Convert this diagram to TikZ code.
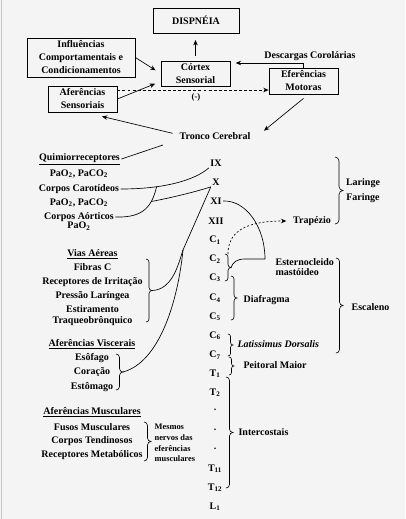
\documentclass[tikz,border=0pt]{standalone}
\usepackage{fontspec}
\setmainfont{Liberation Serif}
\usetikzlibrary{arrows.meta}
\definecolor{PaperGray}{RGB}{244,244,244}
% right-facing curly brace: x, top y, bottom y, depth
\newcommand{\bracedraw}[4]{%
  \draw[brc] (#1,#2) to[out=0,in=90] ({#1+#4/2},{#2+#4/2})
    -- ({#1+#4/2},{(#2+#3)/2-#4/2}) to[out=270,in=180] ({#1+#4},{(#2+#3)/2})
    to[out=180,in=90] ({#1+#4/2},{(#2+#3)/2+#4/2})
    -- ({#1+#4/2},{#3-#4/2}) to[out=270,in=0] (#1,#3);}

\begin{document}
\begin{tikzpicture}[x=0.75pt, y=-0.75pt,
    lbl/.style={font=\fontsize{7.5}{9.75}\selectfont\bfseries, inner sep=1pt, align=center},
    box/.style={lbl, draw, line width=0.6pt},
    arr/.style={-{Stealth[length=4pt,width=3.4pt]}, line width=0.5pt},
    brc/.style={line width=0.45pt},
    crv/.style={line width=0.5pt}]
	\fill[PaperGray] (0,0) rectangle (405,519);
	\useasboundingbox (0,0) rectangle (405,519);
	\draw[gray!45, line width=0.8pt] (1.5,0) -- (1.5,519);
	% upper block
	\node[box, minimum width=64.5pt, minimum height=18.75pt] (disp) at (196,20.5) {DISPNÉIA};
	\node[box, minimum width=81pt, minimum height=29.25pt] (infl) at (81,57.5) {Influências\\Comportamentais e\\Condicionamentos};
	\node[box, minimum width=51.75pt, minimum height=18.75pt] (cortex) at (195.5,73.5) {Córtex\\Sensorial};
	\node[box, minimum width=51.75pt, minimum height=19.5pt] (eferm) at (303.5,81) {Eferências\\Motoras};
	\node[box, minimum width=51.75pt, minimum height=19.5pt] (aferS) at (82.5,99) {Aferências\\Sensoriais};
	\node[lbl] (desc) at (310,56) {Descargas Corolárias};
	\node[lbl] (tronco) at (215,136) {Tronco Cerebral};
	\node[lbl, font=\fontsize{6.5}{7}\selectfont\bfseries] (menos) at (196,97) {(-)};
	\draw[arr, shorten <=3.75pt, shorten >=5pt] (cortex.north) -- (cortex.north |- disp.south);
	\draw[arr, shorten >=4.5pt] (infl.east) -- (cortex.west);
	\draw[arr, shorten >=4.5pt] (aferS.east) -- ([yshift=-6pt]cortex.west);
	\draw[arr, dash pattern=on 2.2pt off 1.6pt] ([yshift=6.75pt]aferS.east) -- ([yshift=6.75pt]aferS.east -| eferm.west);
	\draw[arr, shorten >=4pt] (eferm.north) |- ([yshift=7.9pt]cortex.east);
	\draw[arr] ([yshift=-3pt]eferm.south) -- ([xshift=9pt,yshift=4pt]tronco.east);
	\draw[arr] ([xshift=-4pt,yshift=2pt]tronco.west) -- ([xshift=14.6pt,yshift=-3pt]aferS.south);
	% afferent lists
	\node[lbl] (quimio) at (79.5,159) {\underline{Quimiorreceptores}};
	\node[lbl] (pa1) at (79,174) {PaO\textsubscript{2}, PaCO\textsubscript{2}};
	\node[lbl] (carot) at (79,189) {Corpos Carotídeos};
	\node[lbl] (pa2) at (79,203) {PaO\textsubscript{2}, PaCO\textsubscript{2}};
	\node[lbl] (aort) at (79,217) {Corpos Aórticos};
	\node[lbl] (pa3) at (79,226) {PaO\textsubscript{2}};
	\node[lbl] (vias) at (92.5,254) {\underline{Vias Aéreas}};
	\node[lbl] (fibC) at (92.5,267) {Fibras C};
	\node[lbl] (irrit) at (92.5,282) {Receptores de Irritação};
	\node[lbl] (laring) at (92.5,296) {Pressão Laríngea};
	\node[lbl, font=\fontsize{7.5}{8}\selectfont\bfseries] (estir) at (92.5,315.5) {Estiramento\\Traqueobrônquico};
	\node[lbl] (viscer) at (92,344) {\underline{Aferências Viscerais}};
	\node[lbl] (esof) at (92,358) {Esôfago};
	\node[lbl] (corac) at (92,372) {Coração};
	\node[lbl] (estom) at (92,387) {Estômago};
	\node[lbl] (musc) at (92,412) {\underline{Aferências Musculares}};
	\node[lbl] (fusos) at (92,427) {Fusos Musculares};
	\node[lbl] (tend) at (92,441) {Corpos Tendinosos};
	\node[lbl] (metab) at (92,455) {Receptores Metabólicos};
	\node[lbl, align=left, anchor=west, font=\fontsize{6.3}{8}\selectfont\bfseries] (mesmos) at (153,443) {Mesmos\\nervos das\\eferências\\musculares};
	\bracedraw{146}{259}{322}{6}
	\bracedraw{116}{354}{390}{7}
	\bracedraw{144}{422}{461}{7}
	\coordinate (viasTip) at (152,290.5);
	\coordinate (viscTip) at (123,372);
	% nerves
	\node[lbl] (nIX) at (216,163) {IX};
	\node[lbl] (nX) at (216,182) {X};
	\node[lbl] (nXI) at (216,201) {XI};
	\node[lbl] (nXII) at (216,221) {XII};
	\node[lbl] (nC1) at (215,240) {C\textsubscript{1}};
	\node[lbl] (nC2) at (215,259) {C\textsubscript{2}};
	\node[lbl] (nC3) at (215,278) {C\textsubscript{3}};
	\node[lbl] (nC4) at (215,298) {C\textsubscript{4}};
	\node[lbl] (nC5) at (215,317) {C\textsubscript{5}};
	\node[lbl] (nC6) at (215,336) {C\textsubscript{6}};
	\node[lbl] (nC7) at (215,355) {C\textsubscript{7}};
	\node[lbl] (nT1) at (215,374) {T\textsubscript{1}};
	\node[lbl] (nT2) at (215,393) {T\textsubscript{2}};
	\node[lbl] (dotA) at (215,410) {.};
	\node[lbl] (dotB) at (215,430) {.};
	\node[lbl] (dotC) at (215,449) {.};
	\node[lbl] (nT11) at (215,469) {T\textsubscript{11}};
	\node[lbl] (nT12) at (215,488) {T\textsubscript{12}};
	\node[lbl] (nL1) at (215,507) {L\textsubscript{1}};
	% muscles
	\node[lbl] (laringe) at (363,183) {Laringe};
	\node[lbl] (faringe) at (363,198) {Faringe};
	\node[lbl] (trap) at (312,221) {Trapézio};
	\node[lbl, align=left, anchor=west, font=\fontsize{7.5}{7.8}\selectfont\bfseries] (estern) at (274,267) {Esternocleido\\mastóideo};
	\node[lbl, anchor=west] (diaf) at (242,300) {Diafragma};
	\node[lbl, anchor=west, font=\fontsize{7.5}{9}\selectfont\bfseries\itshape] (latis) at (236,344) {Latissimus Dorsalis};
	\node[lbl, anchor=west] (peit) at (242,365) {Peitoral Maior};
	\node[lbl, anchor=west] (inter) at (237,432) {Intercostais};
	\node[lbl, anchor=west] (escal) at (350,307) {Escaleno};
	\bracedraw{335}{157}{224}{8}
	\bracedraw{336}{258}{353}{7}
	\bracedraw{225}{254}{281}{6}
	\bracedraw{231}{276}{320}{6}
	\bracedraw{228}{334}{356}{5}
	\bracedraw{229}{357}{375}{5}
	\bracedraw{226}{377}{488}{7}
	\coordinate (c23Tip) at (231,267.5);
	\coordinate (c23Top) at (228,254);
	\coordinate (xiBend) at (265,259);
	% connections
	\coordinate (qEnd) at (163,145);
	\coordinate (xMid) at (183,250);
	\draw[crv] (quimio.east) -- (qEnd);
	\draw[crv] (carot.east) .. controls (165,189) and (195,180) .. (nIX.south west) coordinate[pos=0.3] (cJoin);
	\draw[crv] (aort.east) .. controls (145,218) and (152,205) .. (cJoin) coordinate[pos=0.7] (aJoin);
	\draw[crv] (aJoin) .. controls (170,198) and (195,192) .. (nX.south west);
	\draw[crv] (nX.south west) -- (xMid) .. controls (179,262) and (173,290) .. (viasTip);
	\draw[crv] (xMid) .. controls (178,300) and (160,362) .. (viscTip);
	\draw[crv] (nXI.east) .. controls (246,200) and (265,227) .. (xiBend) -- ++(-20,0) .. controls (237,259) and (233,262) .. (c23Tip);
	\draw[arr, dash pattern=on 1.5pt off 1.5pt, shorten >=4pt] (c23Top) .. controls (228,232) and (245,221) .. (trap.west);
\end{tikzpicture}
\end{document}
